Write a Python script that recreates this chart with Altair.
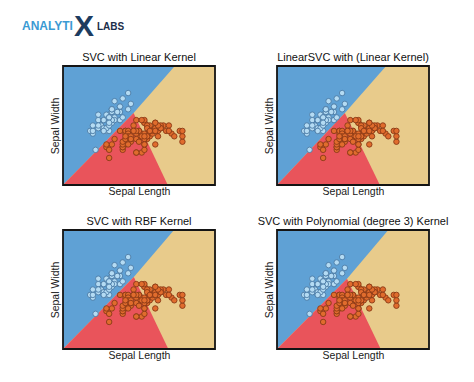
import altair as alt
import pandas as pd

FONT = "Liberation Sans"
BLUE = "#5fa1d5"
RED = "#e9545b"
TAN = "#e8cb8b"

# ---- scatter values (sepal length / sepal width) ----
setosa_length = [5.1,4.9,4.7,4.6,5.0,5.4,4.6,5.0,4.4,4.9,5.4,4.8,4.8,4.3,5.8,5.7,5.4,5.1,5.7,5.1,
                 5.4,5.1,4.6,5.1,4.8,5.0,5.0,5.2,5.2,4.7,4.8,5.4,5.2,5.5,4.9,5.0,5.5,4.9,4.4,5.1,
                 5.0,4.5,4.4,5.0,5.1,4.8,5.1,4.6,5.3,5.0]
setosa_width = [3.5,3.0,3.2,3.1,3.6,3.9,3.4,3.4,2.9,3.1,3.7,3.4,3.0,3.0,4.0,4.4,3.9,3.5,3.8,3.8,
                3.4,3.7,3.6,3.3,3.4,3.0,3.4,3.5,3.4,3.2,3.1,3.4,4.1,4.2,3.1,3.2,3.5,3.6,3.0,3.4,
                3.5,2.3,3.2,3.5,3.8,3.0,3.8,3.2,3.7,3.3]
versicolor_length = [7.0,6.4,6.9,5.5,6.5,5.7,6.3,4.9,6.6,5.2,5.0,5.9,6.0,6.1,5.6,6.7,5.6,5.8,6.2,5.6,
                     5.9,6.1,6.3,6.1,6.4,6.6,6.8,6.7,6.0,5.7,5.5,5.5,5.8,6.0,5.4,6.0,6.7,6.3,5.6,5.5,
                     5.5,6.1,5.8,5.0,5.6,5.7,5.7,6.2,5.1,5.7]
versicolor_width = [3.2,3.2,3.1,2.3,2.8,2.8,3.3,2.4,2.9,2.7,2.0,3.0,2.2,2.9,2.9,3.1,3.0,2.7,2.2,2.5,
                    3.2,2.8,2.5,2.8,2.9,3.0,2.8,3.0,2.9,2.6,2.4,2.4,2.7,2.7,3.0,3.4,3.1,2.3,3.0,2.5,
                    2.6,3.0,2.6,2.3,2.7,3.0,2.9,2.9,2.5,2.8]
virginica_length = [6.3,5.8,7.1,6.3,6.5,7.6,4.9,7.3,6.7,6.5,6.4,6.8,5.7,5.8,6.4,6.5,7.7,6.0,6.9,5.6,
                    7.7,6.3,6.7,7.2,6.2,6.1,6.4,7.2,7.4,6.4,6.3,6.1,7.7,6.3,6.4,6.0,6.9,6.7,6.9,5.8,
                    6.8,6.7,6.7,6.3,6.5,6.2,5.9]
virginica_width = [3.3,2.7,3.0,2.9,3.0,3.0,2.5,2.9,2.5,3.2,2.7,3.0,2.5,2.8,3.2,3.0,2.6,2.2,3.2,2.8,
                   2.8,2.7,3.3,3.2,2.8,3.0,2.8,3.0,2.8,2.8,2.8,2.6,3.0,3.4,3.1,3.0,3.1,3.1,3.1,2.7,
                   3.2,3.3,3.0,2.5,3.0,3.4,3.0]

species_names = ["setosa", "versicolor", "virginica"]
point_fill = ["#b4dbf3", "#e06c2d", "#e06c2d"]
point_stroke = ["#4c7ca6", "#8a3a16", "#8a3a16"]

# ---- panel titles and decision-region boundaries (data units) ----
panel_titles = ["SVC with Linear Kernel", "LinearSVC with (Linear Kernel)",
                "SVC with RBF Kernel", "SVC with Polynomial (degree 3) Kernel"]
x_domain = [3.3, 8.9]
y_domain = [1.0, 5.4]
triple_x = [5.90, 5.80, 5.91, 5.88]
triple_y = [3.66, 3.66, 3.66, 3.60]
top_x = [7.42, 7.32, 7.39, 7.40]
bottom_x = [7.16, 7.09, 7.18, 7.12]

logo_text = ["ANALYTI", "X", "LABS"]

points_df = pd.DataFrame({
    "length": setosa_length + versicolor_length + virginica_length,
    "width": setosa_width + versicolor_width + virginica_width,
    "species": ["setosa"] * len(setosa_length) + ["versicolor"] * len(versicolor_length)
               + ["virginica"] * len(virginica_length),
})

W, H = 152, 119


def panel(i):
    xs = alt.Scale(domain=x_domain, nice=False, zero=False)
    ys = alt.Scale(domain=y_domain, nice=False, zero=False)
    xax = alt.Axis(title="Sepal Length", labels=False, ticks=False, domain=False, grid=False,
                   titleFont=FONT, titleFontSize=10.5, titleFontWeight="normal",
                   titleColor="#1a1a1a", titlePadding=1)
    yax = alt.Axis(title="Sepal Width", labels=False, ticks=False, domain=False, grid=False,
                   titleFont=FONT, titleFontSize=10.5, titleFontWeight="normal",
                   titleColor="#1a1a1a", titlePadding=3)
    blue_df = pd.DataFrame({"x": [x_domain[0], triple_x[i], top_x[i]],
                            "lo": [y_domain[0], triple_y[i], y_domain[1]],
                            "hi": [y_domain[1]] * 3})
    red_df = pd.DataFrame({"x": [x_domain[0], triple_x[i], bottom_x[i]],
                           "lo": [y_domain[0]] * 3,
                           "hi": [y_domain[0], triple_y[i], y_domain[0]]})
    frame_df = pd.DataFrame({"x0": [x_domain[0]], "x1": [x_domain[1]],
                             "y0": [y_domain[0]], "y1": [y_domain[1]]})
    blue = alt.Chart(blue_df).mark_area(color=BLUE).encode(
        x=alt.X("x:Q", scale=xs, axis=xax), y=alt.Y("lo:Q", scale=ys, axis=yax), y2="hi:Q")
    red = alt.Chart(red_df).mark_area(color=RED).encode(
        x=alt.X("x:Q", scale=xs, axis=xax), y=alt.Y("lo:Q", scale=ys, axis=yax), y2="hi:Q")
    pts = alt.Chart(points_df).mark_circle(size=30, opacity=1, strokeWidth=0.9).encode(
        x=alt.X("length:Q", scale=xs, axis=xax),
        y=alt.Y("width:Q", scale=ys, axis=yax),
        fill=alt.Fill("species:N", scale=alt.Scale(domain=species_names, range=point_fill), legend=None),
        stroke=alt.Stroke("species:N", scale=alt.Scale(domain=species_names, range=point_stroke), legend=None),
    )
    frame = alt.Chart(frame_df).mark_rect(filled=False, stroke="#141414", strokeWidth=1.8).encode(
        x=alt.X("x0:Q", scale=xs, axis=xax), x2="x1:Q",
        y=alt.Y("y0:Q", scale=ys, axis=yax), y2="y1:Q")
    return alt.layer(blue, red, pts, frame).properties(
        width=W, height=H,
        title=alt.TitleParams(panel_titles[i], font=FONT, fontSize=11, fontWeight="normal",
                              color="#111111", offset=2, anchor="middle"),
        view=alt.ViewBackground(fill=TAN, stroke="transparent"),
    )


logo_df = pd.DataFrame({"t": logo_text})
logo_a = alt.Chart(logo_df.iloc[[0]]).mark_text(
    font=FONT, fontSize=12, fontWeight="bold", color="#3a9ad3", align="left", baseline="alphabetic"
).encode(text="t:N", x=alt.value(-41), y=alt.value(19))
logo_x = alt.Chart(logo_df.iloc[[1]]).mark_text(
    font=FONT, fontSize=30, fontWeight="bold", color="#1d3c60", align="left", baseline="alphabetic"
).encode(text="t:N", x=alt.value(11), y=alt.value(25))
logo_l = alt.Chart(logo_df.iloc[[2]]).mark_text(
    font=FONT, fontSize=10, fontWeight="bold", color="#1c2e4a", align="left", baseline="alphabetic"
).encode(text="t:N", x=alt.value(34), y=alt.value(19))
logo = alt.layer(logo_a, logo_x, logo_l).properties(
    width=W, height=10, view=alt.ViewBackground(fill="transparent", stroke="transparent"))

blank = alt.Chart(pd.DataFrame({"t": [""]})).mark_text().encode(text="t:N").properties(
    width=W, height=10, view=alt.ViewBackground(fill="transparent", stroke="transparent"))

chart = alt.concat(logo, blank, panel(0), panel(1), panel(2), panel(3), columns=2,
                   spacing={"row": 45, "column": 62}, bounds="flush").properties(
    padding={"left": 13, "top": 1, "right": 5, "bottom": 5},
    background="white",
)

chart.save("out.html", embed_options={"renderer": "svg", "actions": False})
